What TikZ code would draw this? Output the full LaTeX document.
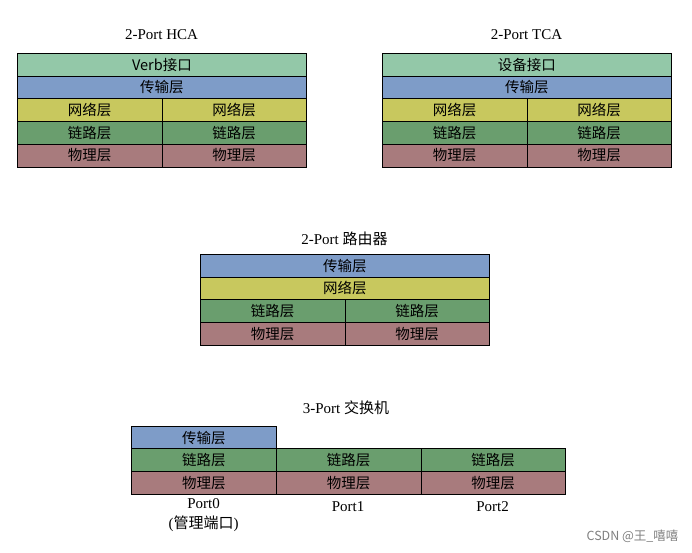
\documentclass[tikz,border=0pt]{standalone}
\usepackage{fontspec}
\setmainfont{Liberation Serif}
\newfontfamily\cjk{Noto Sans CJK SC}
\definecolor{cverb}{HTML}{93C8A8}
\definecolor{ctrans}{HTML}{7E9CC8}
\definecolor{cnet}{HTML}{C8C85E}
\definecolor{clink}{HTML}{6A9E6E}
\definecolor{cphy}{HTML}{A87B7D}
\tikzset{cell/.style={draw=black,line width=0.8pt,anchor=north west,inner sep=0pt,minimum height=22.7pt,font=\cjk\fontsize{14.5}{16}\selectfont},
 title/.style={font=\fontsize{15}{17}\selectfont},
 lbl/.style={font=\fontsize{15}{20}\selectfont,align=center,anchor=north}}
\newcommand{\cellat}[6]{\node[cell,fill=#5,minimum width=#3pt] (#1) at (#2) {#6};}
\begin{document}
\begin{tikzpicture}[x=1pt,y=-1pt]
\useasboundingbox (0,0) rectangle (692,552);
\fill[white] (0,0) rectangle (692,552);
% HCA
\node[title] (th) at (161.5,35) {2-Port HCA};
\cellat{h1}{17,53}{289}{}{cverb}{Verb接口}
\cellat{h2}{17,75.7}{289}{}{ctrans}{传输层}
\cellat{h3}{17,98.4}{144.5}{}{cnet}{网络层}
\cellat{h4}{161.5,98.4}{144.5}{}{cnet}{网络层}
\cellat{h5}{17,121.1}{144.5}{}{clink}{链路层}
\cellat{h6}{161.5,121.1}{144.5}{}{clink}{链路层}
\cellat{h7}{17,143.8}{144.5}{}{cphy}{物理层}
\cellat{h8}{161.5,143.8}{144.5}{}{cphy}{物理层}
% TCA
\node[title] (tt) at (526.5,35) {2-Port TCA};
\cellat{t1}{382,53}{289}{}{cverb}{设备接口}
\cellat{t2}{382,75.7}{289}{}{ctrans}{传输层}
\cellat{t3}{382,98.4}{144.5}{}{cnet}{网络层}
\cellat{t4}{526.5,98.4}{144.5}{}{cnet}{网络层}
\cellat{t5}{382,121.1}{144.5}{}{clink}{链路层}
\cellat{t6}{526.5,121.1}{144.5}{}{clink}{链路层}
\cellat{t7}{382,143.8}{144.5}{}{cphy}{物理层}
\cellat{t8}{526.5,143.8}{144.5}{}{cphy}{物理层}
% Router
\node[title] (tr) at (344.5,239) {2-Port {\cjk 路由器}};
\cellat{r1}{200,254}{289}{}{ctrans}{传输层}
\cellat{r2}{200,276.7}{289}{}{cnet}{网络层}
\cellat{r3}{200,299.4}{144.5}{}{clink}{链路层}
\cellat{r4}{344.5,299.4}{144.5}{}{clink}{链路层}
\cellat{r5}{200,322.1}{144.5}{}{cphy}{物理层}
\cellat{r6}{344.5,322.1}{144.5}{}{cphy}{物理层}
% Switch
\node[title] (ts) at (346,408) {3-Port {\cjk 交换机}};
\cellat{s1}{131,426}{145}{}{ctrans}{传输层}
\cellat{s2}{131,448.3}{145}{}{clink}{链路层}
\cellat{s3}{276,448.3}{144.5}{}{clink}{链路层}
\cellat{s4}{420.5,448.3}{144.5}{}{clink}{链路层}
\cellat{s5}{131,470.8}{145}{}{cphy}{物理层}
\cellat{s6}{276,470.8}{144.5}{}{cphy}{物理层}
\cellat{s7}{420.5,470.8}{144.5}{}{cphy}{物理层}
\node[lbl] (p0) at (203.5,495) {Port0\\({\cjk 管理端口})};
\node[lbl] (p1) at (348,498) {Port1};
\node[lbl] (p2) at (492.5,498) {Port2};
\node[font=\cjk\fontsize{12.5}{14}\selectfont,text=gray,anchor=east] (wm) at (682,536) {CSDN @王\_嘻嘻};
\end{tikzpicture}
\end{document}
